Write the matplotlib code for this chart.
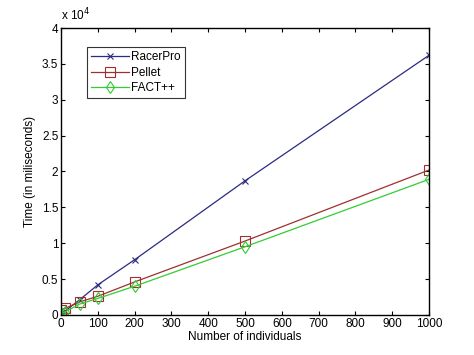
import matplotlib
matplotlib.use("Agg")
import matplotlib.pyplot as plt
from matplotlib.ticker import FuncFormatter, MultipleLocator

plt.rcParams['font.family'] = ['Liberation Sans', 'DejaVu Sans']

# Daten (Zeit in Millisekunden)
individuals = [0, 10, 50, 100, 200, 500, 1000]
racerpro = [200, 500, 2100, 4200, 7700, 18700, 36200]
pellet = [700, 900, 1800, 2600, 4600, 10300, 20200]
factpp = [200, 400, 1500, 2300, 4000, 9500, 18900]

fig = plt.figure(figsize=(4.74, 3.55), dpi=100)
ax = fig.add_axes([0.129, 0.113, 0.776, 0.808])

ax.plot(individuals, racerpro, color='#2b2b80', lw=0.9, marker='x',
        ms=4, mew=0.8, label='RacerPro')
ax.plot(individuals, pellet, color='#a03030', lw=0.9, marker='s',
        ms=6.5, mfc='none', mew=0.8, label='Pellet')
ax.plot(individuals, factpp, color='#33cc33', lw=0.9, marker='d',
        ms=6, mfc='none', mew=0.8, label='FACT++')

ax.set_xlim(0, 1000)
ax.set_ylim(0, 40000)
ax.xaxis.set_major_locator(MultipleLocator(100))
ax.yaxis.set_major_locator(MultipleLocator(5000))
ax.yaxis.set_major_formatter(FuncFormatter(lambda v, p: f"{v / 1e4:g}"))
ax.tick_params(direction='in', top=True, right=True, labelsize=8.5,
               length=3, width=0.8, pad=2)
for s in ax.spines.values():
    s.set_linewidth(1.0)

ax.text(0.0, 1.015, r"x 10$^4$", transform=ax.transAxes, fontsize=8.5,
        ha='left', va='bottom')
ax.set_xlabel("Number of individuals", fontsize=8.5, labelpad=1)
ax.set_ylabel("Time (in miliseconds)", fontsize=8.5, labelpad=4)

leg = ax.legend(loc='upper left', bbox_to_anchor=(0.07, 0.934), fontsize=8.5,
                frameon=True, fancybox=False, edgecolor='black',
                handlelength=3.2, borderpad=0.35, labelspacing=0.3,
                handletextpad=0.2, borderaxespad=0)
leg.get_frame().set_linewidth(0.8)

fig.savefig("out.png", dpi=100)
